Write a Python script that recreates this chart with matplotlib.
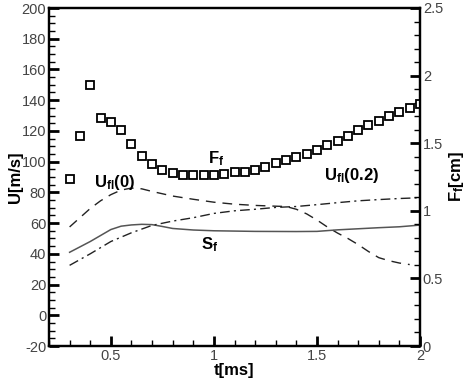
import matplotlib
matplotlib.use("Agg")
import matplotlib.pyplot as plt
from matplotlib.ticker import MultipleLocator, FixedLocator

plt.rcParams['font.family'] = ['Liberation Sans', 'DejaVu Sans']
plt.rcParams['mathtext.fontset'] = 'custom'
plt.rcParams['mathtext.rm'] = 'Liberation Sans'
plt.rcParams['mathtext.bf'] = 'Liberation Sans:bold'
plt.rcParams['mathtext.it'] = 'Liberation Sans:italic'

# F_f [cm] (squares, right axis)
t_F = [0.30, 0.35, 0.40, 0.45, 0.50, 0.55, 0.60, 0.65, 0.70, 0.75, 0.80, 0.85,
       0.90, 0.95, 1.00, 1.05, 1.10, 1.15, 1.20, 1.25, 1.30, 1.35, 1.40, 1.45,
       1.50, 1.55, 1.60, 1.65, 1.70, 1.75, 1.80, 1.85, 1.90, 1.95, 2.00]
F_f = [1.235, 1.554, 1.932, 1.689, 1.657, 1.598, 1.493, 1.407, 1.346, 1.304, 1.279, 1.267,
       1.262, 1.262, 1.267, 1.274, 1.284, 1.289, 1.304, 1.326, 1.351, 1.375, 1.395, 1.419,
       1.451, 1.485, 1.515, 1.551, 1.596, 1.632, 1.667, 1.701, 1.730, 1.762, 1.787]

# U_fl(0) dashed
t_U0 = [0.30, 0.40, 0.45, 0.50, 0.55, 0.60, 0.65, 0.70, 0.80, 0.90, 1.00, 1.10, 1.20,
        1.30, 1.35, 1.40, 1.45, 1.50, 1.55, 1.60, 1.65, 1.70, 1.75, 1.80, 1.85, 1.90, 1.95]
U_fl0 = [57.5, 69.5, 74.5, 78.5, 81.5, 82.8, 82.3, 80.6, 77.6, 75.5, 73.6, 72.3, 71.5,
         71.0, 70.8, 69.0, 66.0, 62.0, 57.5, 53.5, 50.0, 46.0, 41.5, 37.5, 35.5, 34.0, 33.0]

# S_f solid
t_S = [0.30, 0.40, 0.50, 0.55, 0.60, 0.65, 0.70, 0.75, 0.80, 0.90, 1.00, 1.20, 1.40,
       1.50, 1.60, 1.70, 1.80, 1.90, 2.00]
S_f = [41.0, 48.0, 55.8, 58.0, 58.8, 59.2, 59.0, 57.8, 56.5, 55.5, 55.0, 54.6, 54.5,
       54.6, 55.6, 56.3, 57.0, 57.6, 58.7]

# U_fl(0.2) dash-dot
t_U2 = [0.30, 0.40, 0.50, 0.60, 0.70, 0.80, 0.90, 1.00, 1.10, 1.20, 1.30, 1.40, 1.50,
        1.60, 1.70, 1.80, 1.90, 2.00]
U_fl02 = [32.5, 40.0, 48.0, 53.7, 58.5, 61.3, 63.5, 66.3, 68.0, 69.0, 70.2, 70.8, 72.0,
          73.3, 74.5, 75.3, 76.0, 76.5]

x_ticks = [0.5, 1.0, 1.5, 2.0]
x_ticklabels = ['0.5', '1', '1.5', '2']
y_ticks = [-20, 0, 20, 40, 60, 80, 100, 120, 140, 160, 180, 200]
f_ticks = [0, 0.5, 1.0, 1.5, 2.0, 2.5]
f_ticklabels = ['0', '0.5', '1', '1.5', '2', '2.5']

fig = plt.figure(figsize=(4.74, 3.83), dpi=100)
ax = fig.add_axes([49/474, 37/383, 371/474, 338/383])
ax2 = ax.twinx()

ax.plot(t_U0, U_fl0, color='#222222', lw=1.0, dashes=(7, 5))
ax.plot(t_S, S_f, color='#555555', lw=1.1)
ax.plot(t_U2, U_fl02, color='#222222', lw=1.0, dashes=(7, 3, 1.5, 3))
ax2.plot(t_F, F_f, linestyle='none', marker='s', ms=6.2, mfc='white',
         mec='black', mew=1.3)

ax.set_xlim(0.2, 2.0)
ax.set_ylim(-20, 200)
ax2.set_ylim(0, 2.5)

ax.xaxis.set_major_locator(FixedLocator(x_ticks))
ax.set_xticklabels(x_ticklabels)
ax.xaxis.set_minor_locator(MultipleLocator(0.1))
ax.yaxis.set_major_locator(FixedLocator(y_ticks))
ax.set_yticklabels([str(v) for v in y_ticks])
ax.yaxis.set_minor_locator(MultipleLocator(5))
ax2.yaxis.set_major_locator(FixedLocator(f_ticks))
ax2.set_yticklabels(f_ticklabels)
ax2.yaxis.set_minor_locator(MultipleLocator(0.1))

tick_color = '#444444'
for a in (ax, ax2):
    for s in a.spines.values():
        s.set_linewidth(1.6)
    a.tick_params(which='major', direction='in', length=7, width=2.0,
                  labelsize=10.5, labelcolor=tick_color, pad=2)
    a.tick_params(which='minor', direction='in', length=4, width=1.0)
ax.tick_params(axis='y', which='both', right=False)
ax.tick_params(axis='x', which='both', top=False)

ax.set_xlabel('t[ms]', fontsize=12, fontweight='bold', va='center')
ax.set_ylabel('U[m/s]', fontsize=12, fontweight='bold', va='center', ha='center')
ax2.set_ylabel(r'$\mathbf{F_f}$[cm]', fontsize=12, fontweight='bold', va='center', ha='center')
ax.xaxis.set_label_coords(0.5, -(370 - 346) / 338)
ax.yaxis.set_label_coords((15 - 49) / 371, 0.5)
ax2.yaxis.set_label_coords((457 - 49) / 371, 0.5)

ax.text(1.01, 102, r'$\mathbf{F_f}$', fontsize=12, ha='center', va='center')
ax.text(0.52, 86.5, r'$\mathbf{U_{fl}}$(0)', fontsize=12, fontweight='bold', ha='center', va='center')
ax.text(1.67, 91, r'$\mathbf{U_{fl}}$(0.2)', fontsize=12, fontweight='bold', ha='center', va='center')
ax.text(0.98, 46, r'$\mathbf{S_f}$', fontsize=12, ha='center', va='center')

fig.savefig('out.png', dpi=100)
